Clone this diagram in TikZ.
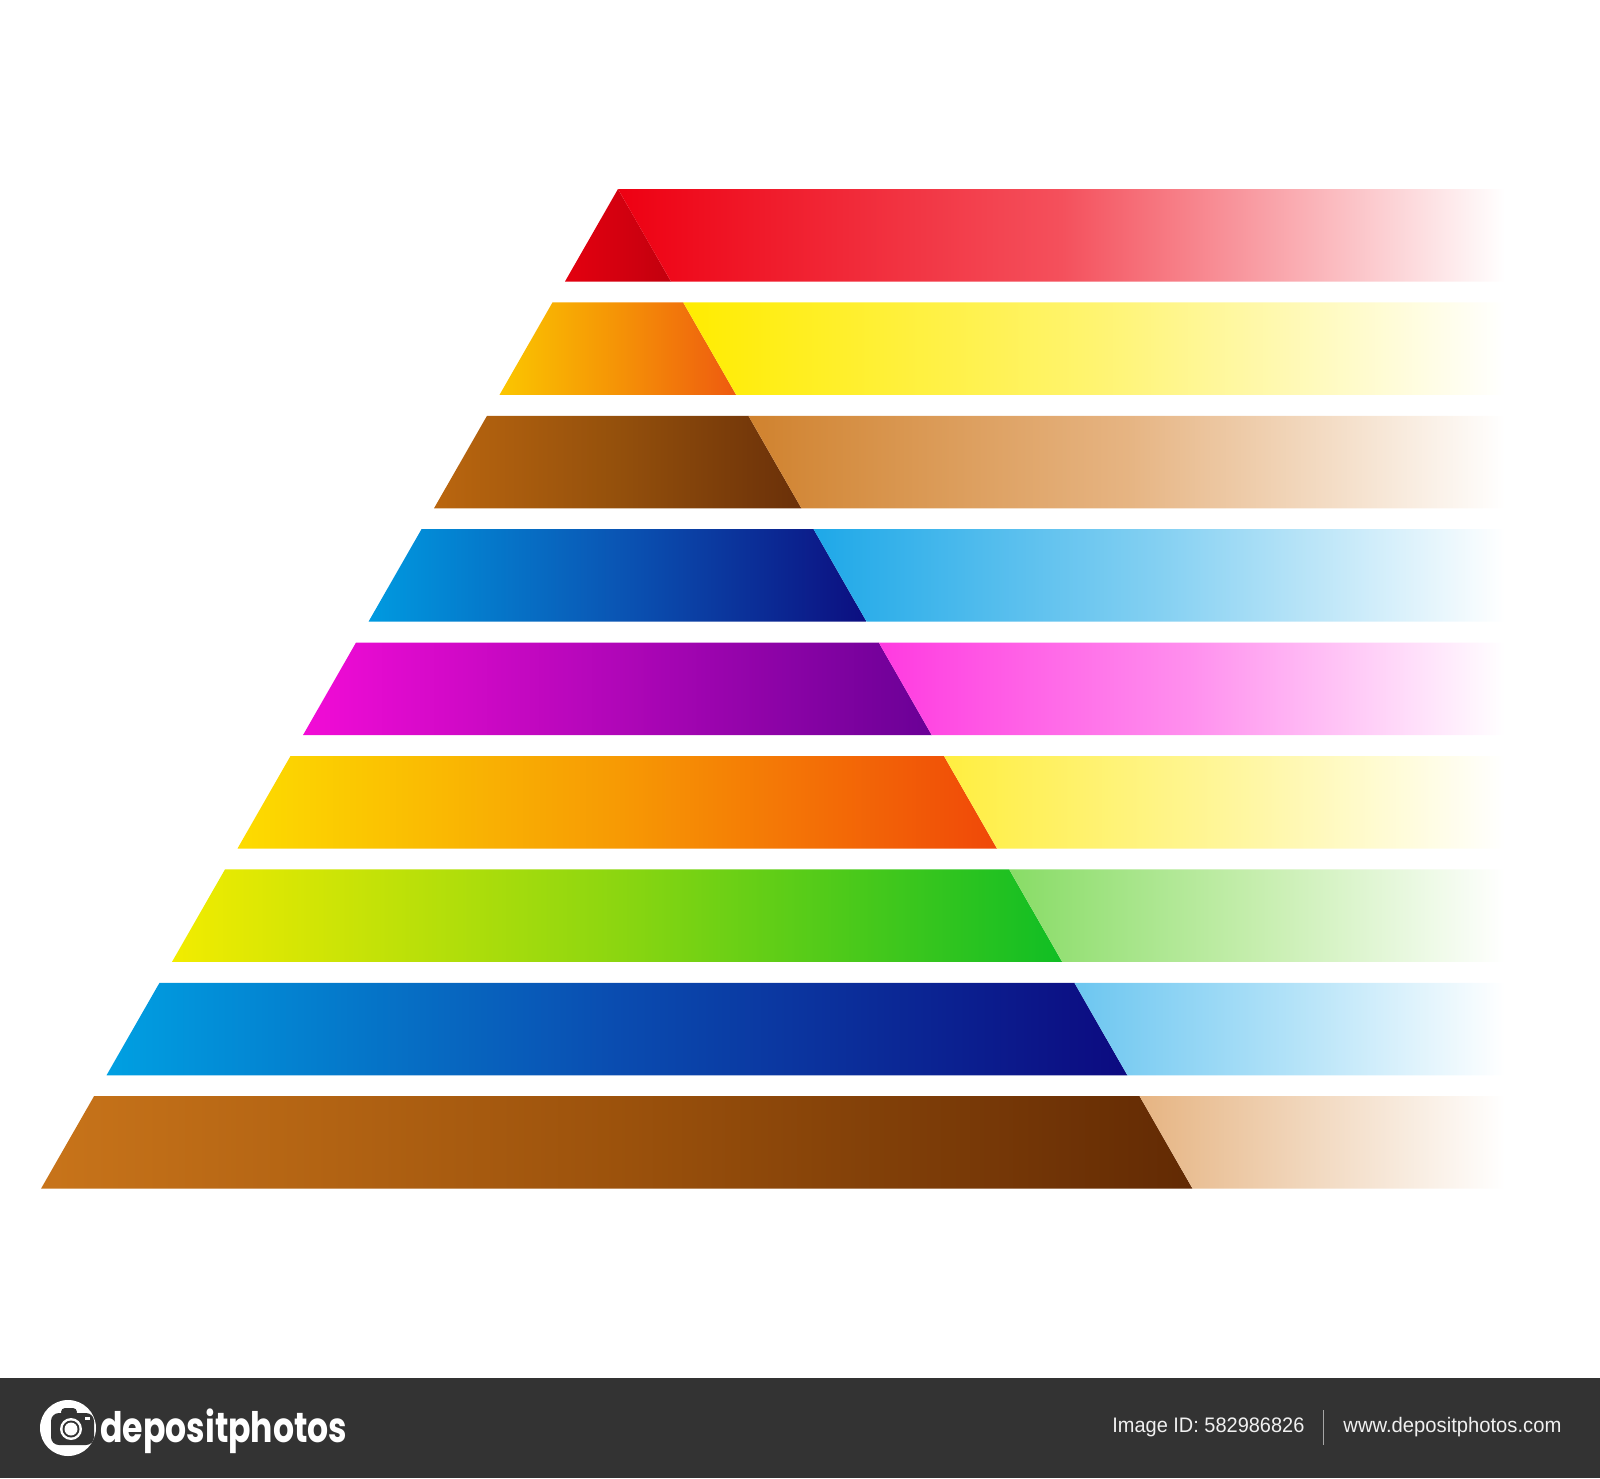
\documentclass[tikz,border=0pt]{standalone}
\usepackage{graphicx}
\usepackage{fontspec}
\setmainfont{Liberation Sans}
\newfontfamily\logofont{Poppins}
\usetikzlibrary{positioning}
% left (dark) part of each row: start, middle, end
\definecolor{rowAa}{HTML}{E3000F}\definecolor{rowAb}{HTML}{D4000F}\definecolor{rowAc}{HTML}{C2000E}
\definecolor{rowBa}{HTML}{FBC600}\definecolor{rowBb}{HTML}{F59306}\definecolor{rowBc}{HTML}{EE5A10}
\definecolor{rowCa}{HTML}{BA660F}\definecolor{rowCb}{HTML}{94500C}\definecolor{rowCc}{HTML}{6A3009}
\definecolor{rowDa}{HTML}{009AE0}\definecolor{rowDb}{HTML}{0A55B4}\definecolor{rowDc}{HTML}{0C0E80}
\definecolor{rowEa}{HTML}{F20CD6}\definecolor{rowEb}{HTML}{B006B8}\definecolor{rowEc}{HTML}{6A0096}
\definecolor{rowFa}{HTML}{FDDC00}\definecolor{rowFb}{HTML}{F79A04}\definecolor{rowFc}{HTML}{F04808}
\definecolor{rowGa}{HTML}{F2EC00}\definecolor{rowGb}{HTML}{8CD610}\definecolor{rowGc}{HTML}{10BE24}
\definecolor{rowHa}{HTML}{00A0E2}\definecolor{rowHb}{HTML}{0A4CB0}\definecolor{rowHc}{HTML}{0C0A80}
\definecolor{rowIa}{HTML}{C8741A}\definecolor{rowIb}{HTML}{9C520C}\definecolor{rowIc}{HTML}{622A04}
% right (fading) part of each row: start, middle
\definecolor{fadeAa}{HTML}{EE0012}\definecolor{fadeAb}{HTML}{F4505C}
\definecolor{fadeBa}{HTML}{FFEC00}\definecolor{fadeBb}{HTML}{FFF470}
\definecolor{fadeCa}{HTML}{D0822E}\definecolor{fadeCb}{HTML}{E6B482}
\definecolor{fadeDa}{HTML}{1EA8E8}\definecolor{fadeDb}{HTML}{84D0F2}
\definecolor{fadeEa}{HTML}{FF3AE0}\definecolor{fadeEb}{HTML}{FF90EE}
\definecolor{fadeFa}{HTML}{FFEE40}\definecolor{fadeFb}{HTML}{FFF69A}
\definecolor{fadeGa}{HTML}{88DC66}\definecolor{fadeGb}{HTML}{C6EEAE}
\definecolor{fadeHa}{HTML}{6CC6F0}\definecolor{fadeHb}{HTML}{B2E2F8}
\definecolor{fadeIa}{HTML}{E6B482}\definecolor{fadeIb}{HTML}{F2DAC2}
\definecolor{barbg}{HTML}{333333}

\begin{document}
\begin{tikzpicture}[x=0.5pt,y=-0.5pt,
  footertext/.style={text=white!88!gray,inner sep=0pt,anchor=west},
  sepline/.style={draw=gray!70,line width=0.5pt}]
\useasboundingbox (0,0) rectangle (1600,1478);
% \draw[help lines,step=100] (0,0) grid (1600,1478);
\foreach \k/\row in {0/A,1/B,2/C,3/D,4/E,5/F,6/G,7/H,8/I} {
  \pgfmathsetmacro{\yt}{189+113.4*\k}
  \pgfmathsetmacro{\yb}{\yt+92.5}
  \pgfmathsetmacro{\xl}{565-65.5*\k}
  \pgfmathsetmacro{\xs}{618+65.2*\k}
  \shade[left color=row\row a,right color=row\row c,middle color=row\row b]
    (\xl,\yb) -- (\xl+53,\yt) -- (\xs,\yt) -- (\xs+53,\yb) -- cycle;
  \shade[left color=fade\row a,right color=white,middle color=fade\row b]
    (\xs,\yt) -- (1505,\yt) -- (1505,\yb) -- (\xs+53,\yb) -- cycle;
}
%
\fill[barbg] (0,1378) rectangle (1600,1478);
\fill[white] (68,1428) circle (28);
\fill[barbg,rounded corners=4] (51,1413) rectangle (94,1445);
\fill[barbg,rounded corners=2] (61,1408) rectangle (77,1416);
\fill[white] (71,1429) circle (11);
\fill[barbg] (71,1429) circle (8.5);
\fill[white] (71,1429) circle (6.5);
\fill[white] (85,1417) rectangle (90,1420);
%
\node (logo) [inner sep=0pt,anchor=base west,text=white] at (100,1442)
  {\resizebox{123.5pt}{\height}{\logofont\bfseries\fontsize{21}{24}\selectfont depositphotos}};
\node (imgid) [footertext] at (1112,1427)
  {\resizebox{96pt}{\height}{\fontsize{10.5}{12}\selectfont Image ID: 582986826}};
\node (site) [footertext] at (1343,1427)
  {\resizebox{109pt}{\height}{\fontsize{10.5}{12}\selectfont www.depositphotos.com}};
\draw[sepline] (1323,1410) -- (1323,1445);
\end{tikzpicture}
\end{document}
